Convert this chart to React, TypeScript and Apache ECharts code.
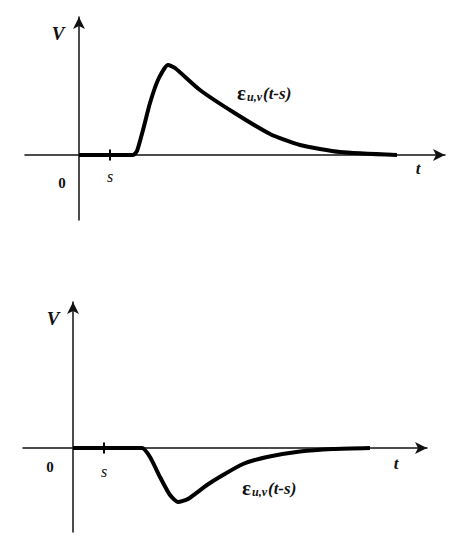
import React, { useEffect, useRef } from "react";
import * as echarts from "echarts";

// Top panel: positive potential ε(t-s)
const topT = [0, 5.4, 5.8, 6.4, 7.1, 7.9, 8.9, 9.6, 12.1, 15.4, 19.1, 22.1, 26.1, 31.8];
const topV = [0, 0, 0.4, 2.5, 5.2, 7.5, 9.0, 8.7, 6.5, 4.3, 2.1, 1.0, 0.3, 0];
// Bottom panel: negative potential
const botT = [0, 6.9, 7.7, 8.7, 9.7, 10.5, 11.5, 13.4, 15.0, 17.0, 19.4, 22.7, 26.0, 29.7];
const botV = [0, 0, -0.9, -2.9, -4.7, -5.4, -5.1, -3.7, -2.7, -1.6, -0.9, -0.35, -0.1, 0];
const sValue = 3.1;
const tickLabels = ["s"];
const axisNames = { y: "V", x: "t", origin: "0" };

const serif = "Times New Roman, Liberation Serif, serif";

export default function App() {
  const ref = useRef<HTMLDivElement>(null);
  useEffect(() => {
    if (!ref.current) return;
    const chart = echarts.init(ref.current, null, { renderer: "svg" });
    const grids = [
      { left: 25, width: 420, top: 17, height: 203 },
      { left: 23, width: 404, top: 302, height: 230 },
    ];
    const xr = [
      [-5.4, 36.6],
      [-5.0, 35.4],
    ];
    const yr = [
      [-6.5, 13.8],
      [-8.4, 14.6],
    ];
    const xAxis = [0, 1].map((i) => ({
      type: "value",
      gridIndex: i,
      min: xr[i][0],
      max: xr[i][1],
      splitLine: { show: false },
      axisLine: {
        onZero: true,
        symbol: ["none", "arrow"],
        symbolSize: [9, 12],
        lineStyle: { color: "#111", width: 1.5 },
      },
      axisTick: { show: false },
      axisLabel: { show: false },
    }));
    const yAxis = [0, 1].map((i) => ({
      type: "value",
      gridIndex: i,
      min: yr[i][0],
      max: yr[i][1],
      splitLine: { show: false },
      axisLine: {
        onZero: true,
        symbol: ["none", "arrow"],
        symbolSize: [9, 12],
        lineStyle: { color: "#111", width: 1.5 },
      },
      axisTick: { show: false },
      axisLabel: { show: false },
    }));
    const curve = (i: number, t: number[], v: number[]) => ({
      type: "line",
      xAxisIndex: i,
      yAxisIndex: i,
      data: t.map((x, k) => [x, v[k]]),
      smooth: 0.2,
      showSymbol: false,
      lineStyle: { color: "#000", width: 4 },
    });
    const tick = (i: number) => ({
      type: "line",
      xAxisIndex: i,
      yAxisIndex: i,
      data: [
        [sValue, -0.55],
        [sValue, 0.55],
      ],
      showSymbol: false,
      lineStyle: { color: "#000", width: 2 },
    });
    const txt = (x: number, y: number, text: string, size: number, italic = true, bold = true) => ({
      type: "text",
      x,
      y,
      style: {
        text,
        fill: "#111",
        fontFamily: serif,
        fontSize: size,
        fontStyle: italic ? "italic" : "normal",
        fontWeight: bold ? "bold" : "normal",
        textAlign: "center",
        textVerticalAlign: "middle",
      },
    });
    const eps = (x: number, y: number) => ({
      type: "text",
      x,
      y,
      style: {
        text: "{e|ε}{s|u,v}{n|(t-s)}",
        fill: "#111",
        fontFamily: serif,
        textAlign: "left",
        textVerticalAlign: "middle",
        rich: {
          e: { fontFamily: serif, fontSize: 21, fontWeight: "bold", fill: "#111" },
          s: { fontFamily: serif, fontSize: 12, fontWeight: "bold", fontStyle: "italic", fill: "#111", padding: [7, 1, 0, 1] },
          n: { fontFamily: serif, fontSize: 17, fontWeight: "bold", fontStyle: "italic", fill: "#111" },
        },
      },
    });
    chart.setOption({
      animation: false,
      grid: grids,
      xAxis,
      yAxis,
      series: [curve(0, topT, topV), curve(1, botT, botV), tick(0), tick(1)],
      graphic: [
        txt(58, 33, axisNames.y, 19),
        txt(418, 168, axisNames.x, 17),
        txt(62, 183, axisNames.origin, 15, false),
        txt(110, 176, tickLabels[0], 16, true, false),
        eps(237, 93),
        txt(53, 318, axisNames.y, 19),
        txt(396, 463, axisNames.x, 17),
        txt(50, 467, axisNames.origin, 15, false),
        txt(104, 471, tickLabels[0], 16, true, false),
        eps(242, 488),
      ],
    });
    return () => chart.dispose();
  }, []);
  return (
    <div
      ref={ref}
      style={{ position: "fixed", left: 0, top: 0, width: 474, height: 548, background: "#fff" }}
    />
  );
}
